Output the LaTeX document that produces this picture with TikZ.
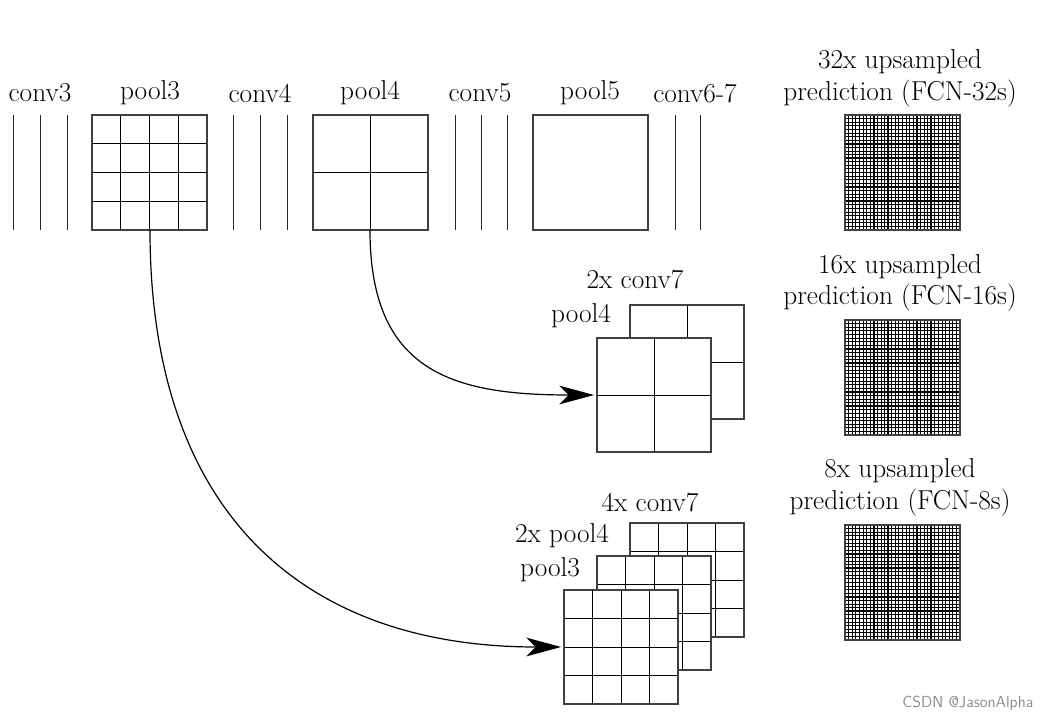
\documentclass[tikz,border=0pt]{standalone}
\usetikzlibrary{arrows.meta}
\newcommand{\mygrid}[4]{% x0 y0 size n
  \fill[white] (#1,#2) rectangle ++(#3,#3);
  \pgfmathsetmacro{\st}{#3/#4}
  \foreach \i in {1,...,#4}{\ifnum\i<#4
    \draw[gridl] ({#1+\i*\st},#2) -- ++(0,#3);
    \draw[gridl] (#1,{#2+\i*\st}) -- ++(#3,0);\fi}
  \draw[boxl] (#1,#2) rectangle ++(#3,#3);}
\begin{document}
\begin{tikzpicture}[x=0.75pt,y=-0.75pt,
  gridl/.style={line width=0.6pt,black},
  boxl/.style={line width=0.9pt,black!75},
  vl/.style={line width=0.7pt,black!85},
  lab/.style={font=\fontsize{20.5}{24}\selectfont,inner sep=0pt},
  arr/.style={line width=0.9pt,-{Stealth[length=26pt,width=14pt,inset=7pt]}}]
\useasboundingbox (0,0) rectangle (1051,721);
% top labels
\foreach \x/\t in {40/conv3,150/pool3,260/conv4,370/pool4,480/conv5,590/pool5,695/conv6-7}
  \node[lab] (l\t) at (\x,93) {\t};
\node[lab] (u32a) at (900,62) {32x upsampled};
\node[lab] (u32b) at (900,94) {prediction (FCN-32s)};
\node[lab] (u16a) at (900,267) {16x upsampled};
\node[lab] (u16b) at (900,298) {prediction (FCN-16s)};
\node[lab] (u8a) at (900,471) {8x upsampled};
\node[lab] (u8b) at (900,503) {prediction (FCN-8s)};
% vertical conv lines
\foreach \x in {13,40,67,233,260,287,455,481,507,675,700}
  \draw[vl] (\x,115) -- (\x,230);
% pool boxes
\mygrid{92}{115}{115}{4}
\draw[line width=1.2pt] (92,172.5) -- (207,172.5);
\mygrid{313}{115}{115}{2}
\mygrid{533}{115}{115}{1}
\coordinate (p3) at (150,230);
\coordinate (p4) at (370,230);
% upsampled grids
\foreach \y in {115,320,525}{
  \foreach \i in {1,...,31}{
    \draw[line width=0.65pt] ({845+\i*115/32},\y) -- ++(0,115);
    \draw[line width=0.65pt] (845,{\y+\i*115/32}) -- ++(115,0);}
  \foreach \i in {1,...,7}{
    \draw[line width=1.3pt] ({845+\i*115/8},\y) -- ++(0,115);
    \draw[line width=1.3pt] (845,{\y+\i*115/8}) -- ++(115,0);}
  \draw[boxl] (845,\y) rectangle ++(115,115);}
% middle stack
\node[lab] (m2c) at (635,279) {2x conv7};
\node[lab] (mp4) at (581,316) {pool4};
\mygrid{630}{305}{114}{2}
\mygrid{597}{338}{114}{2}
\node[inner sep=0pt] (mfront) at (595,395) {};
% bottom stack
\node[lab] (b4c) at (650,502) {4x conv7};
\node[lab] (b2p) at (562,536) {2x pool4};
\node[lab] (bp3) at (550,570) {pool3};
\mygrid{630}{523}{114}{4}
\mygrid{597}{556}{114}{4}
\mygrid{564}{590}{114}{4}
\draw[line width=1.2pt] (564,618.5) -- (678,618.5);
\draw[line width=1.2pt] (592.5,590) -- (592.5,704);
\node[inner sep=0pt] (bfront) at (562,647) {};
% arrows
\draw[arr] (p4) .. controls (370,370) and (450,395) .. (mfront);
\draw[arr] (p3) .. controls (150,520) and (310,647) .. (bfront);
\node[font=\large\sffamily,text=black!45,anchor=east] (wm) at (1038,703) {CSDN @JasonAlpha};
\end{tikzpicture}
\end{document}
